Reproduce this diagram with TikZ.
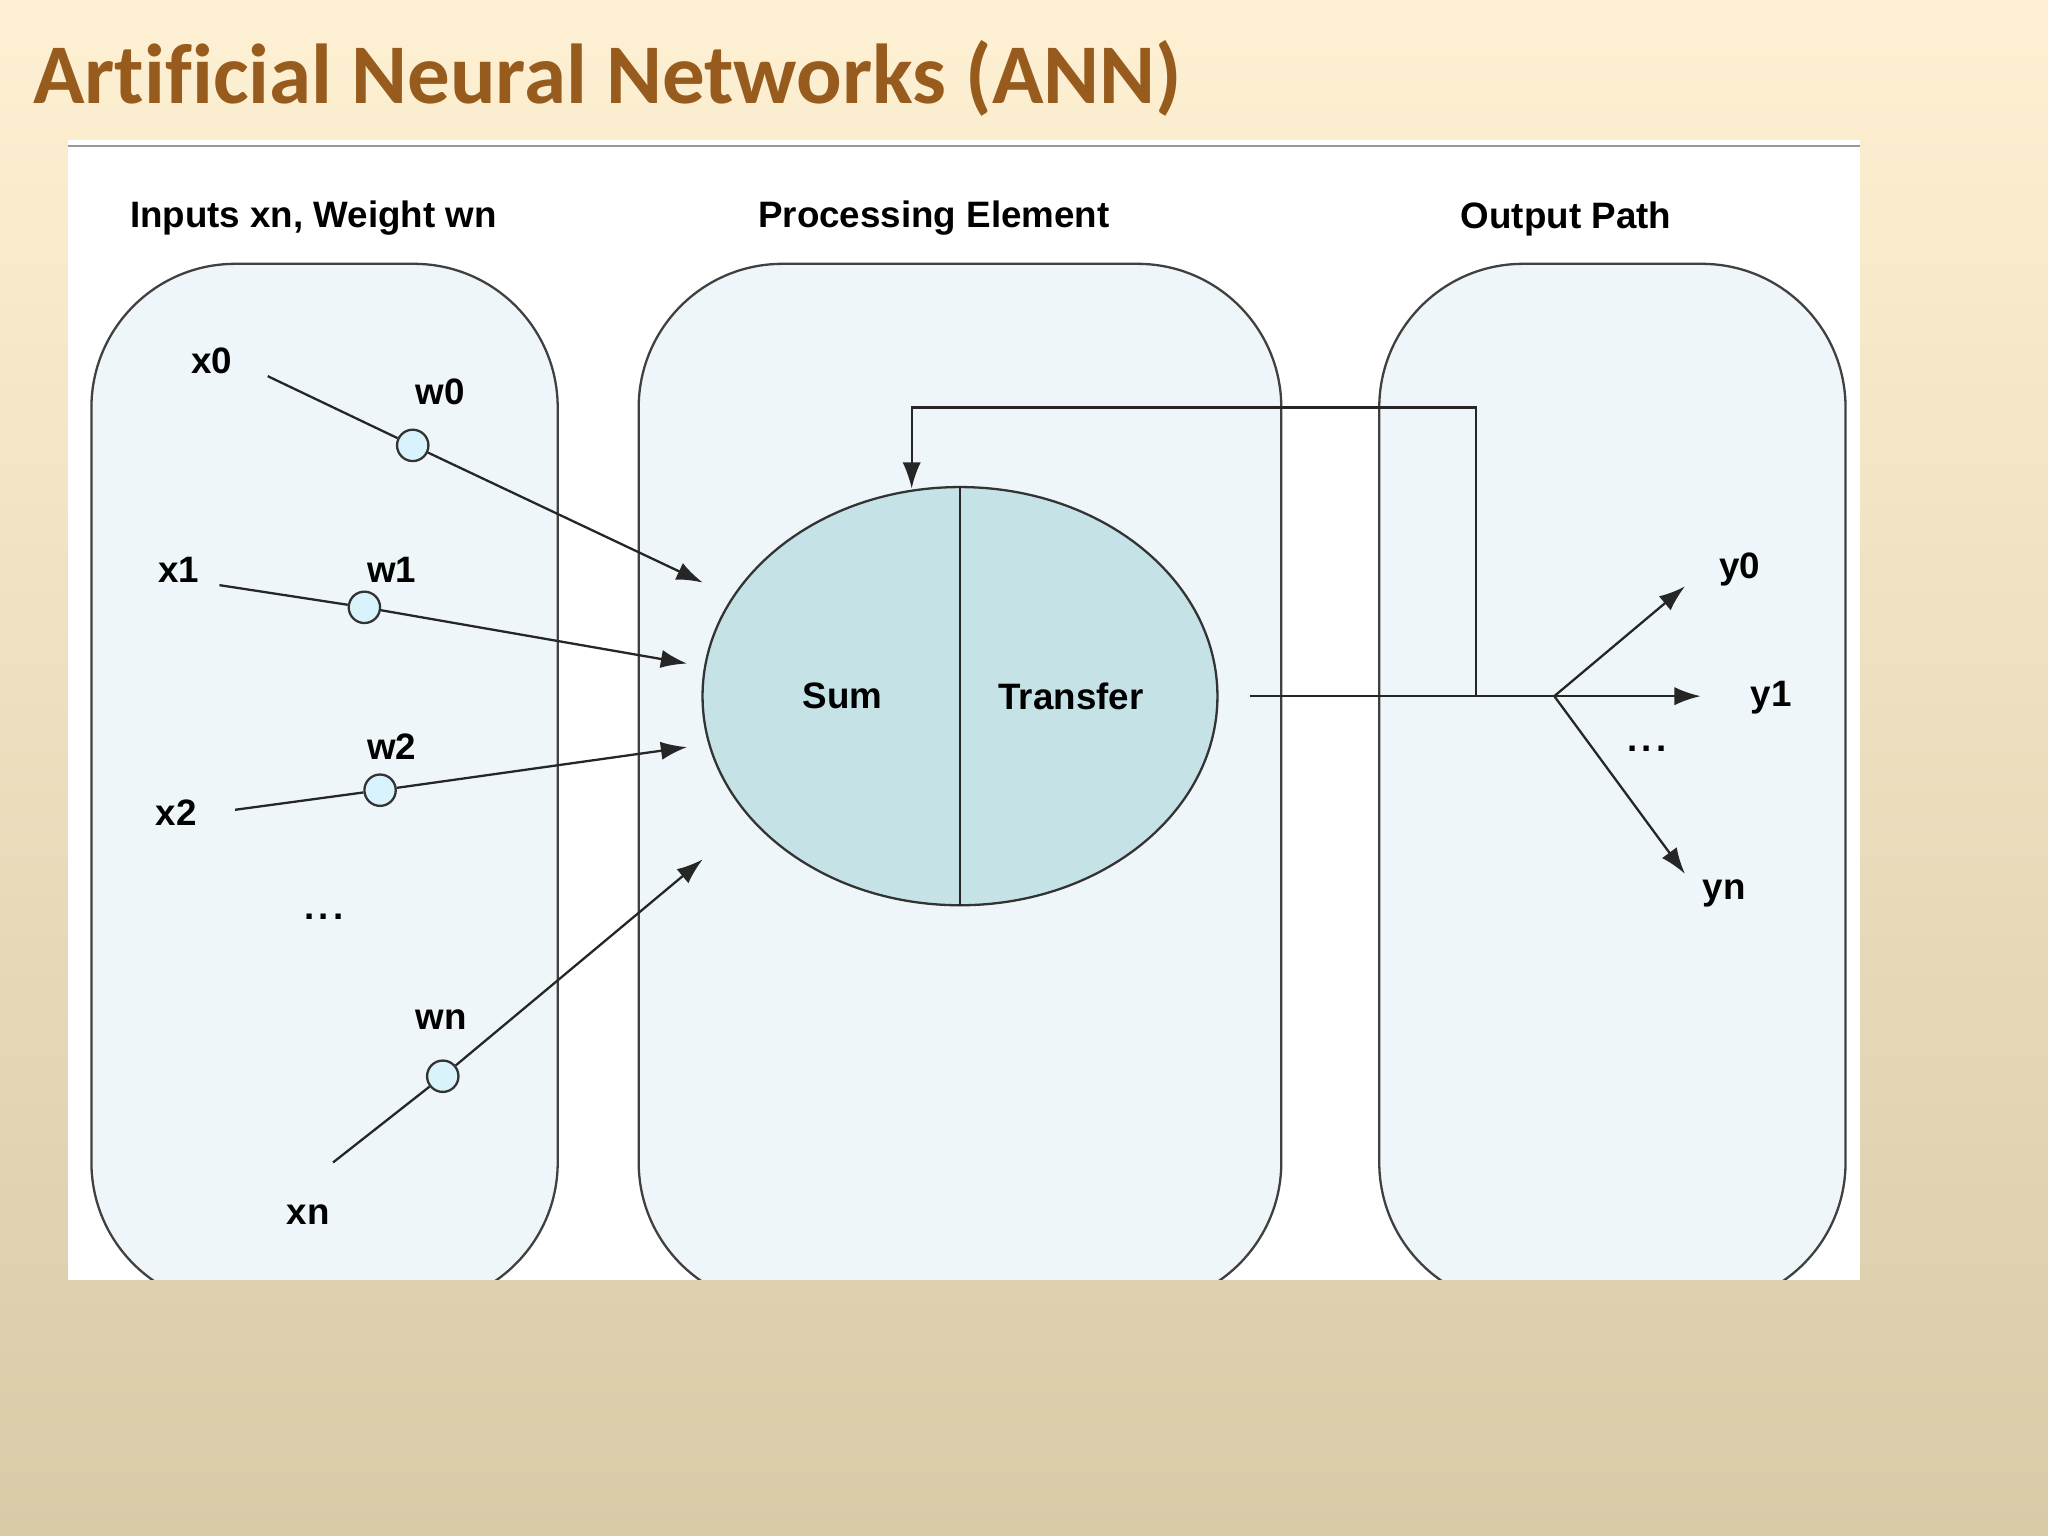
\documentclass[tikz,border=0pt]{standalone}
\usepackage{fontspec}
\setmainfont{Liberation Sans}
\newfontfamily\titlefont[Ligatures=NoCommon]{Carlito}
\usetikzlibrary{shapes.geometric,arrows.meta}
\definecolor{boxfill}{RGB}{239,246,250}
\begin{document}
\begin{tikzpicture}[x=0.01cm,y=-0.01cm,
  lab/.style={font=\bfseries\fontsize{8pt}{10pt}\selectfont},
  box/.style={draw=black!75,fill=boxfill,rounded corners=1.1cm,line width=0.5pt},
  wt/.style={circle,draw=black!80,fill=cyan!15,minimum size=0.24cm,inner sep=0pt,line width=0.5pt},
  ln/.style={line width=0.5pt,black!85},
  arr/.style={ln,-{Latex[length=0.2cm,width=0.14cm]}}]
\shade[top color={rgb,255:red,254;green,240;blue,210},bottom color={rgb,255:red,216;green,203;blue,168}] (0,0) rectangle (1568,1176);
\useasboundingbox (0,0) rectangle (1568,1176);
\node[anchor=west,text={rgb,255:red,151;green,91;blue,30},font=\titlefont\bfseries\fontsize{18.5pt}{21pt}\selectfont] (title) at (13,60) {Artificial Neural Networks (ANN)};
\fill[white] (52,107) rectangle (1424,980);
\draw[black!40] (52,112) -- (1424,112);
\begin{scope}
\clip (52,107) rectangle (1424,980);
\draw[box] (70,202) rectangle (427,1000);
\draw[box] (489,202) rectangle (981,1000);
\draw[box] (1056,202) rectangle (1413,1000);
\end{scope}
\node[lab] (h1) at (240,167) {Inputs xn, Weight wn};
\node[lab] (h2) at (715,167) {Processing Element};
\node[lab] (h3) at (1199,168) {Output Path};
\node[ellipse,draw=black!80,fill={rgb,255:red,197;green,227;blue,230},minimum width=3.94cm,minimum height=3.2cm,line width=0.5pt] (pe) at (735,533) {};
\draw[ln] (pe.north) -- (pe.south);
\node[lab] (sum) at (645,533) {Sum};
\node[lab] (tr) at (820,533) {Transfer};
% inputs
\node[lab] (x0) at (162,276) {x0};
\node[lab] (x1) at (137,436) {x1};
\node[lab] (x2) at (135,622) {x2};
\node[lab] (xn) at (236,930) {xn};
\node[lab] (w0) at (337,300) {w0};
\node[lab] (w1) at (300,436) {w1};
\node[lab] (w2) at (300,572) {w2};
\node[lab] (wn) at (338,781) {wn};
\node[lab] (d1) at (248,702) {.\kern1pt.\kern1pt.};
\coordinate (s0) at (205,288); \coordinate (e0) at (538,446);
\coordinate (s1) at (168,448); \coordinate (e1) at (526,508);
\coordinate (s2) at (180,620); \coordinate (e2) at (526,572);
\coordinate (sn) at (255,890); \coordinate (en) at (538,658);
\node[wt] (c0) at (316,341) {};
\node[wt] (c1) at (279,465) {};
\node[wt] (c2) at (291,605) {};
\node[wt] (cn) at (339,824) {};
\draw[ln] (s0) -- (c0); \draw[arr] (c0) -- (e0);
\draw[ln] (s1) -- (c1); \draw[arr] (c1) -- (e1);
\draw[ln] (s2) -- (c2); \draw[arr] (c2) -- (e2);
\draw[ln] (sn) -- (cn); \draw[arr] (cn) -- (en);
% outputs
\coordinate (o0) at (957,533); \coordinate (fb) at (1130,533); \coordinate (sp) at (1190,533);
\coordinate (fin) at (698,374);
\draw[ln] (o0) -- (sp);
\draw[arr] (fb) -- (1130,312) -- (698,312) -- (fin);
\coordinate (a0) at (1290,449); \coordinate (a1) at (1302,533); \coordinate (an) at (1290,669);
\draw[arr] (sp) -- (a0); \draw[arr] (sp) -- (a1); \draw[arr] (sp) -- (an);
\node[lab] (y0) at (1332,436) {y0};
\node[lab] (y1) at (1356,534) {y1};
\node[lab] (yn) at (1320,684) {yn};
\node[lab] (d2) at (1261,573) {.\kern1pt.\kern1pt.};
\end{tikzpicture}
\end{document}
